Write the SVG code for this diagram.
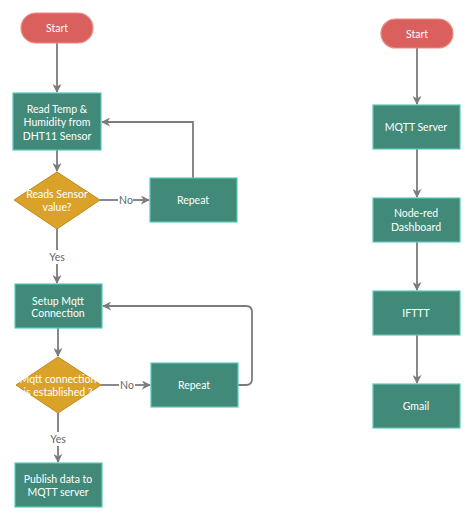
<svg xmlns="http://www.w3.org/2000/svg" width="474" height="521" viewBox="0 0 474 521">
<defs>
<marker id="arr" viewBox="0 0 10 10" refX="9" refY="5" markerWidth="9" markerHeight="9" orient="auto" markerUnits="userSpaceOnUse">
<path d="M0,0 L10,5 L0,10 L3,5 Z" fill="#7b7b80"/>
</marker>
<style>
.term{fill:#d9605d;stroke:#ee8a86;stroke-width:1.2}
.proc{fill:#418a79;stroke:#5cc9bb;stroke-width:1.2}
.dec{fill:#dba22a;stroke:#c08a1d;stroke-width:1}
.t{font-family:Lato,"Liberation Sans",sans-serif;font-size:10.5px;fill:#ffffff;text-anchor:middle;dominant-baseline:central}
.lbl{font-family:Lato,"Liberation Sans",sans-serif;font-size:10.5px;fill:#666666;text-anchor:middle;dominant-baseline:central}
.c{fill:none;stroke:#7b7b80;stroke-width:1.8}
.ca{fill:none;stroke:#7b7b80;stroke-width:1.8;marker-end:url(#arr)}
</style>
</defs>
<rect width="474" height="521" fill="#ffffff"/>
<g id="connectors">
<line class="ca" x1="57" y1="43" x2="57" y2="92"/>
<line class="ca" x1="57" y1="150" x2="57" y2="171"/>
<line class="c" x1="100" y1="200" x2="118" y2="200"/>
<line class="ca" x1="133" y1="200" x2="149" y2="200"/>
<polyline class="ca" points="193,178 193,122 102,122"/>
<line class="c" x1="57" y1="229" x2="57" y2="250"/>
<line class="ca" x1="57" y1="264" x2="57" y2="283"/>
<line class="ca" x1="58" y1="328" x2="58" y2="356"/>
<line class="c" x1="101" y1="385" x2="119" y2="385"/>
<line class="ca" x1="135" y1="385" x2="150" y2="385"/>
<path class="ca" d="M238,385 H246 Q252,385 252,379 V312 Q252,306 246,306 H103"/>
<line class="c" x1="58" y1="413" x2="58" y2="432"/>
<line class="ca" x1="58" y1="446" x2="58" y2="462"/>
<line class="ca" x1="417" y1="48" x2="417" y2="104"/>
<line class="ca" x1="417" y1="149" x2="417" y2="197"/>
<line class="ca" x1="417" y1="242" x2="417" y2="290"/>
<line class="ca" x1="417" y1="335" x2="417" y2="383"/>
<text class="lbl" x="126" y="200">No</text>
<text class="lbl" x="57" y="257">Yes</text>
<text class="lbl" x="127" y="385">No</text>
<text class="lbl" x="58" y="439">Yes</text>
</g>
<g id="start1"><rect class="term" x="21" y="13" width="72" height="30" rx="15"/><text class="t" x="57" y="28">Start</text></g>
<g id="read"><rect class="proc" x="13" y="93" width="88" height="57"/><text class="t" x="57" y="109">Read Temp  &amp;</text><text class="t" x="57" y="122">Humidity from</text><text class="t" x="57" y="136">DHT11 Sensor</text></g>
<g id="dec1"><polygon class="dec" points="57,172 100,200 57,229 14,200"/><text class="t" x="57" y="194">Reads Sensor</text><text class="t" x="57" y="207">value?</text></g>
<g id="repeat1"><rect class="proc" x="150" y="178" width="87" height="44"/><text class="t" x="193" y="200">Repeat</text></g>
<g id="setup"><rect class="proc" x="15" y="284" width="87" height="44"/><text class="t" x="58" y="301">Setup Mqtt</text><text class="t" x="58" y="313">Connection</text></g>
<g id="dec2"><polygon class="dec" points="58,357 101,385 58,413 16,385"/><text class="t" x="58" y="379">Mqtt connection</text><text class="t" x="58" y="392">is established ?</text></g>
<g id="repeat2"><rect class="proc" x="151" y="363" width="87" height="44"/><text class="t" x="194" y="385">Repeat</text></g>
<g id="publish"><rect class="proc" x="15" y="463" width="87" height="44"/><text class="t" x="58" y="479">Publish data to</text><text class="t" x="58" y="492">MQTT server</text></g>
<g id="start2"><rect class="term" x="381" y="19" width="72" height="29" rx="14.5"/><text class="t" x="417" y="34">Start</text></g>
<g id="mqtt"><rect class="proc" x="373" y="105" width="87" height="44"/><text class="t" x="416" y="127">MQTT Server</text></g>
<g id="nodered"><rect class="proc" x="373" y="198" width="87" height="44"/><text class="t" x="416" y="213">Node-red</text><text class="t" x="416" y="227">Dashboard</text></g>
<g id="ifttt"><rect class="proc" x="373" y="291" width="87" height="44"/><text class="t" x="416" y="313">IFTTT</text></g>
<g id="gmail"><rect class="proc" x="373" y="384" width="87" height="44"/><text class="t" x="416" y="406">Gmail</text></g>
</svg>
